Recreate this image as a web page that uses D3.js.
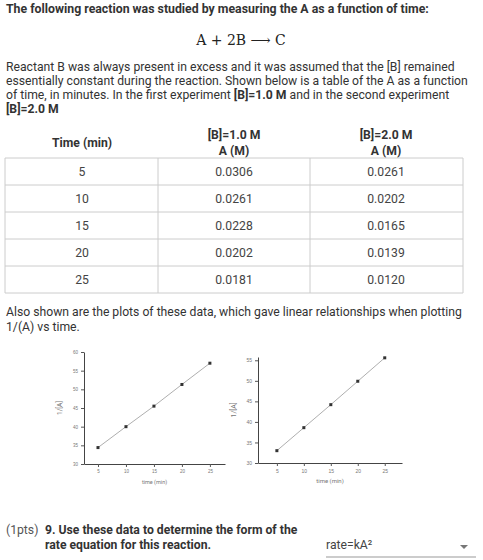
<!DOCTYPE html>
<html><head><meta charset="utf-8">
<script src="https://cdn.jsdelivr.net/npm/d3@7"></script>
<style>body{margin:0;background:#fff}svg{font-family:Roboto,sans-serif;}</style>
</head><body>
<script>
var times = [5, 10, 15, 20, 25];
var concB1 = ["0.0306", "0.0261", "0.0228", "0.0202", "0.0181"];
var concB2 = ["0.0261", "0.0202", "0.0165", "0.0139", "0.0120"];
var invA1 = [34.4, 40.0, 45.5, 51.3, 57.0];
var invA2 = [33.0, 38.6, 44.2, 49.9, 55.6];
var yTicks1 = [30, 35, 40, 45, 50, 55, 60];
var yTicks2 = [30, 35, 40, 45, 50, 55];
var xTicks = [5, 10, 15, 20, 25];

var svg = d3.select("body").append("svg").attr("width", 483).attr("height", 560);
var c = "#333";

function txt(x, y, s, opt) {
  opt = opt || {};
  return svg.append("text").attr("x", x).attr("y", y).text(s)
    .attr("font-size", opt.size || 12.2).attr("fill", opt.fill || c)
    .attr("font-weight", opt.bold ? "bold" : null)
    .attr("text-anchor", opt.anchor || "start")
    .attr("font-family", opt.family || null);
}

txt(6, 13, "The following reaction was studied by measuring the A as a function of time:", {bold: true, size: 12.3});
txt(241, 45, "A + 2B \u27F6 C", {anchor: "middle", size: 14, family: "DejaVu Serif, serif", fill: "#222"});
txt(6, 71, "Reactant B was always present in excess and it was assumed that the [B] remained");
txt(6, 85, "essentially constant during the reaction. Shown below is a table of the A as a function");
var l3 = txt(6, 99, "of time, in minutes. In the first experiment ");
l3.append("tspan").attr("font-weight", "bold").text("[B]=1.0 M");
l3.append("tspan").text(" and in the second experiment");
txt(6, 113, "[B]=2.0 M", {bold: true});

// table
var colX = [5, 158, 310, 463];
var tableTop = 158, rowH = 27;
var tc = [82, 234, 386];
txt(tc[0], 147, "Time (min)", {anchor: "middle", bold: true});
txt(tc[1], 139, "[B]=1.0 M", {anchor: "middle", bold: true});
txt(tc[1], 155, "A (M)", {anchor: "middle", bold: true});
txt(tc[2], 139, "[B]=2.0 M", {anchor: "middle", bold: true});
txt(tc[2], 155, "A (M)", {anchor: "middle", bold: true});
var tableBottom = tableTop + rowH * times.length;
for (var i = 0; i <= times.length; i++)
  svg.append("line").attr("x1", colX[0]).attr("x2", colX[3]).attr("y1", tableTop + i * rowH).attr("y2", tableTop + i * rowH).attr("stroke", "#ccc");
colX.forEach(function (x) {
  svg.append("line").attr("x1", x).attr("x2", x).attr("y1", tableTop).attr("y2", tableBottom).attr("stroke", "#ccc");
});
times.forEach(function (t, i) {
  var y = tableTop + i * rowH + 18;
  txt(tc[0], y, t, {anchor: "middle", fill: "#444"});
  txt(tc[1], y, concB1[i], {anchor: "middle", fill: "#444"});
  txt(tc[2], y, concB2[i], {anchor: "middle", fill: "#444"});
});

txt(6, 316, "Also shown are the plots of these data, which gave linear relationships when plotting");
txt(6, 331, "1/(A) vs time.");

function plot(x0, x1, y0, y1, xs, xe, yd, yt, vals, xlab, fs) {
  var x = d3.scaleLinear().domain([xs, xe]).range([x0, x1]);
  var y = d3.scaleLinear().domain(yd).range([y1, y0]);
  var g = svg.append("g").attr("color", "#555");
  g.append("g").attr("transform", "translate(0," + y1 + ")")
    .call(d3.axisBottom(x).tickValues(xTicks).tickSize(3).tickSizeOuter(0))
    .call(function (a) { a.selectAll("text").attr("font-size", fs).attr("fill", "#777"); });
  g.append("g").attr("transform", "translate(" + x0 + ",0)")
    .call(d3.axisLeft(y).tickValues(yt).tickSize(3).tickSizeOuter(0).tickFormat(d3.format("d")))
    .call(function (a) { a.selectAll("text").attr("font-size", fs).attr("fill", "#777"); });
  g.selectAll(".domain").attr("stroke", "#444");
  var pts = times.map(function (t, i) { return [x(t), y(vals[i])]; });
  g.append("path").attr("d", d3.line()(pts)).attr("fill", "none").attr("stroke", "#999").attr("stroke-width", 0.8);
  g.selectAll("rect.p").data(pts).enter().append("rect")
    .attr("x", function (d) { return d[0] - 1.5; }).attr("y", function (d) { return d[1] - 1.5; })
    .attr("width", 3).attr("height", 3).attr("fill", "#333");
  g.append("text").attr("x", (x0 + x1) / 2).attr("y", y1 + 20).attr("text-anchor", "middle")
    .attr("font-size", fs + 1).attr("fill", "#777").text(xlab);
  g.append("text").attr("transform", "translate(" + (x0 - 22) + "," + ((y0 + y1) / 2) + ") rotate(-90)")
    .attr("text-anchor", "middle").attr("font-size", fs + 2).attr("fill", "#777").text("1/[A]");
}
plot(84, 225, 352, 464, 2.5, 27.7, [30, 60], yTicks1, invA1, "time (min)", 4.5);
plot(258, 402, 357, 463, 1.5, 28.2, [30, 55.8], yTicks2, invA2, "time (min)", 5);

txt(6, 534, "(1pts)", {fill: "#555"});
txt(45, 534, "9. Use these data to determine the form of the", {bold: true});
txt(45, 549, "rate equation for this reaction.", {bold: true});
txt(326, 549, "rate=kA\u00B2", {fill: "#444"});
svg.append("path").attr("d", "M460,545 L468,545 L464,549 Z").attr("fill", "#777");
svg.append("line").attr("x1", 326).attr("x2", 476).attr("y1", 557).attr("y2", 557).attr("stroke", "#999");
</script>
</body></html>
